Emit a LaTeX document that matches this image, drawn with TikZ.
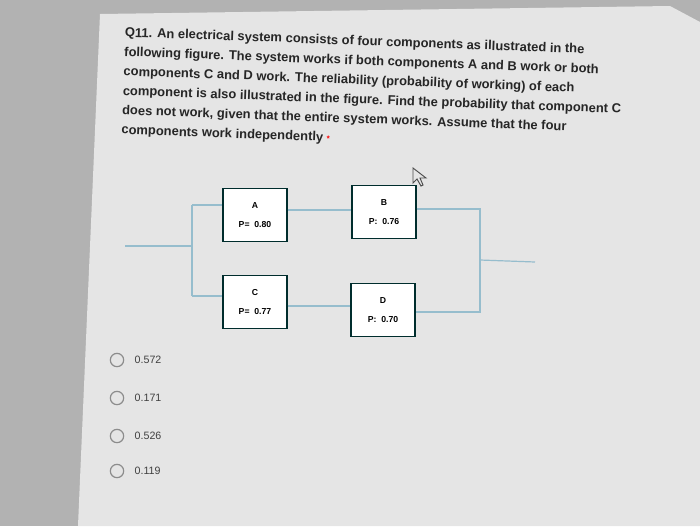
\documentclass[tikz,border=0pt]{standalone}
\usepackage{fontspec}
\setmainfont{Liberation Sans}
\begin{document}
\begin{tikzpicture}[x=0.75pt,y=-0.75pt,
  comp/.style={draw=black!65!teal,line width=0.9pt,fill=white,minimum width=48pt,minimum height=40pt,inner sep=0pt,font=\fontsize{6.5}{8}\selectfont\bfseries,align=center},
  wire/.style={draw=gray!60!cyan!70,line width=0.9pt},
  opt/.style={circle,draw=black!45,line width=0.9pt,minimum size=10pt,inner sep=0pt},
  optlab/.style={anchor=west,font=\fontsize{8}{10}\selectfont,text=black!75}]
\useasboundingbox (0,0) rectangle (700,526);
\fill[black!30] (0,0) rectangle (700,526);
\fill[white!90!black] (100,14) -- (670,6) -- (700,22) -- (700,526) -- (78,526) -- cycle;
\begin{scope}[rotate around={-2.1:(125,27)},transform shape]
\node[anchor=north west,align=left,font=\fontsize{9.7}{14.6}\selectfont\bfseries,text=black!85,inner sep=0pt] (qt) at (125,27)
{Q11. An electrical system consists of four components as illustrated in the\\
following figure. The system works if both components A and B work or both\\
components C and D work. The reliability (probability of working) of each\\
component is also illustrated in the figure. Find the probability that component C\\
does not work, given that the entire system works. Assume that the four\\
components work independently {\color{red}\fontsize{6}{6}\selectfont *}};
\end{scope}
% cursor
\draw[black!70,line width=0.7pt] (413,168) -- (413,183) -- (417,179) -- (421,186) -- (423,185) -- (420,178) -- (426,178) -- cycle;
% components
\node[comp] (A) at (255,215) {A\\[6pt]P= \ 0.80};
\node[comp] (B) at (384,212) {B\\[6pt]P: \ 0.76};
\node[comp] (C) at (255,302) {C\\[6pt]P= \ 0.77};
\node[comp] (D) at (383,310) {D\\[6pt]P: \ 0.70};
\coordinate (inL) at (125,246);
\coordinate (jL) at (192,246);
\coordinate (jR) at (480,260);
\coordinate (outR) at (535,262);
\draw[wire] (inL) -- (jL);
\draw[wire] (192,205) -- (192,296);
\draw[wire] (192,205) -- (A.west|-192,205);
\draw[wire] (192,296) -- (C.west|-192,296);
\draw[wire] (A.east|-0,210) -- (B.west|-0,210);
\draw[wire] (C.east|-0,306) -- (D.west|-0,306);
\draw[wire] (B.east|-0,209) -- (480,209) -- (480,312) -- (D.east|-0,312);
\draw[wire] (jR) -- (outR);
% options
\foreach \y/\t [count=\i] in {360/0.572,398/0.171,436/0.526,471/0.119}{
  \node[opt] (o\i) at (117,\y) {};
  \node[optlab] (l\i) at (130,\y) {\t};
}
\end{tikzpicture}
\end{document}
